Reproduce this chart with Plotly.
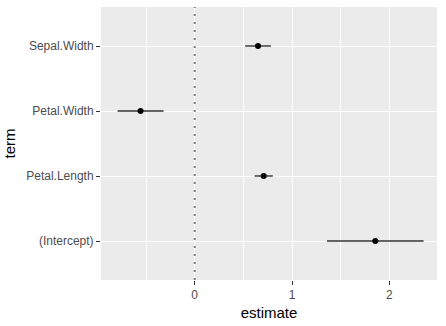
import plotly.graph_objects as go

# Regression coefficients with 95% confidence intervals
terms = ["(Intercept)", "Petal.Length", "Petal.Width", "Sepal.Width"]
estimate = [1.856, 0.7091, -0.5565, 0.6508]
conf_low = [1.3595, 0.6156, -0.7923, 0.5191]
conf_high = [2.3525, 0.8026, -0.3206, 0.7825]

x_ticks = [0, 1, 2]
x_minor = [-0.5, 0.5, 1.5]
x_range = [-0.963, 2.49]

err_plus = [h - e for h, e in zip(conf_high, estimate)]
err_minus = [e - l for e, l in zip(estimate, conf_low)]

fig = go.Figure()

fig.add_trace(go.Scatter(
    x=estimate, y=terms, mode="markers",
    marker=dict(color="black", size=6),
    error_x=dict(type="data", symmetric=False, array=err_plus, arrayminus=err_minus,
                 width=0, thickness=1.4, color="#333333"),
    showlegend=False, hoverinfo="skip",
))

# reference line at zero
fig.add_shape(type="line", x0=0, x1=0, xref="x", y0=0, y1=1, yref="paper",
              line=dict(color="#7f7f7f", width=2, dash="2px,6px"), layer="above")

font = "Liberation Sans, Arial, sans-serif"

fig.update_layout(
    width=446, height=326,
    margin=dict(l=101, r=9, t=7, b=46),
    paper_bgcolor="white", plot_bgcolor="#EBEBEB",
    font=dict(family=font),
    xaxis=dict(
        range=x_range, tickvals=x_ticks, ticktext=[str(v) for v in x_ticks],
        showgrid=True, gridcolor="white", gridwidth=1.4,
        minor=dict(tickvals=x_minor, showgrid=True, gridcolor="white", gridwidth=0.7, ticks=""),
        ticks="outside", ticklen=4, tickcolor="#333333", tickwidth=1,
        tickfont=dict(size=12, color="#4D4D4D"),
        title=dict(text="estimate", font=dict(size=15, color="black"), standoff=6),
        zeroline=False, showline=False,
    ),
    yaxis=dict(
        type="category", categoryorder="array", categoryarray=terms,
        range=[-0.6, len(terms) - 0.4],
        showgrid=True, gridcolor="white", gridwidth=1.4,
        ticks="outside", ticklen=4, tickcolor="#333333", tickwidth=1,
        tickfont=dict(size=12, color="#4D4D4D"),
        title=dict(text="term", font=dict(size=15, color="black"), standoff=6),
        zeroline=False, showline=False,
    ),
)

fig.write_html("out.html")
